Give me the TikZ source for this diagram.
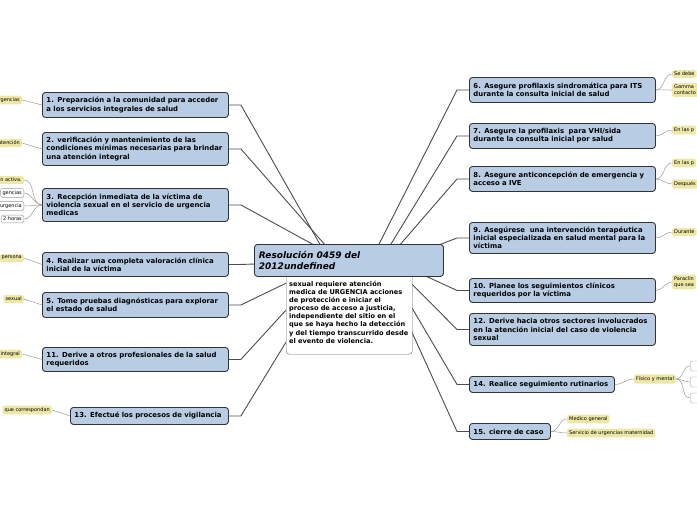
\documentclass[tikz,border=0pt]{standalone}
\usepackage{fontspec}
\setmainfont{DejaVu Sans}
\usetikzlibrary{positioning,backgrounds}
\definecolor{topicblue}{HTML}{B8CCE4}
\definecolor{leafyellow}{HTML}{EDE8A6}
\tikzset{
  topic/.style={rectangle, rounded corners=3pt, draw=black!80, line width=0.9pt, fill=topicblue,
    anchor=north west, align=left, inner sep=3pt,
    font=\fontsize{6.9}{8.2}\selectfont\bfseries},
  leaf/.style={rectangle, rounded corners=1.5pt, fill=leafyellow, inner sep=2pt, font=\fontsize{5}{5.8}\selectfont},
  wleaf/.style={rectangle, rounded corners=1.5pt, draw=black!40, fill=white, inner sep=2pt, font=\fontsize{5}{5.8}\selectfont},
  conn/.style={draw=black!70, line width=0.9pt},
  thin/.style={draw=black!40, line width=0.5pt},
}
\begin{document}
\hyphenpenalty=10000
\exhyphenpenalty=10000
\begin{tikzpicture}[x=1pt, y=-1pt]
  \useasboundingbox (0,0) rectangle (697,520);

  % central note and title
  \node[rectangle, rounded corners=3pt, draw=black!60, fill=white, anchor=north west, align=left,
    text width=120pt, inner sep=3pt, minimum height=84pt,
    font=\fontsize{6.6}{8.1}\selectfont\bfseries]
    (note) at (286,270) {sexual requiere atención medica de URGENCIA acciones de protección e iniciar el proceso de acceso a justicia, independiente del sitio en el que se haya hecho la detección y del tiempo transcurrido desde el evento de violencia.};
  \node[topic, minimum width=189pt, minimum height=32pt, text width=180pt, font=\fontsize{9}{11}\selectfont\bfseries\itshape]
    (root) at (254,244) {Resolución 0459 del\\2012undefined};

  % left topics
  \node[topic, minimum width=186pt, minimum height=25pt, text width=178pt] (t1) at (42,92) {1. Preparación a la comunidad para acceder a los servicios integrales de salud};
  \node[topic, minimum width=186pt, minimum height=33pt, text width=178pt] (t2) at (42,132) {2. verificación y mantenimiento de las condiciones mínimas necesarias para brindar una atención integral};
  \node[topic, minimum width=186pt, minimum height=33pt, text width=178pt] (t3) at (42,188) {3. Recepción inmediata de la víctima de violencia sexual en el servicio de urgencia medicas};
  \node[topic, minimum width=186pt, minimum height=24pt, text width=178pt] (t4) at (42,252) {4. Realizar una completa valoración clínica inicial de la víctima};
  \node[topic, minimum width=186pt, minimum height=25pt, text width=178pt] (t5) at (42,292) {5. Tome pruebas diagnósticas para explorar el estado de salud};
  \node[topic, minimum width=186pt, minimum height=24pt, text width=178pt] (t11) at (42,347) {11. Derive a otros profesionales de la salud requeridos};
  \node[topic, minimum width=158pt, minimum height=17pt, text width=150pt] (t13) at (70,407) {13. Efectué los procesos de vigilancia};

  % right topics
  \node[topic, minimum width=186pt, minimum height=25pt, text width=178pt] (t6) at (469,77) {6. Asegure profilaxis sindromática para ITS durante la consulta inicial de salud};
  \node[topic, minimum width=186pt, minimum height=25pt, text width=178pt] (t7) at (469,123) {7. Asegure la profilaxis\ \ para VHI/sida durante la consulta inicial por salud};
  \node[topic, minimum width=186pt, minimum height=25pt, text width=178pt] (t8) at (469,166) {8. Asegure anticoncepción de emergencia y acceso a IVE};
  \node[topic, minimum width=186pt, minimum height=31pt, text width=178pt] (t9) at (469,222) {9. Asegúrese\ \ una intervención terapéutica inicial especializada en salud mental para la víctima};
  \node[topic, minimum width=186pt, minimum height=24pt, text width=178pt] (t10) at (469,278) {10. Planee los seguimientos clínicos requeridos por la víctima};
  \node[topic, minimum width=186pt, minimum height=32pt, text width=178pt] (t12) at (469,313) {12. Derive hacia otros sectores involucrados en la atención inicial del caso de violencia sexual};
  \node[topic, minimum width=145pt, minimum height=16pt, text width=137pt] (t14) at (469,376) {14. Realice seguimiento rutinarios};
  \node[topic, minimum width=81pt, minimum height=16pt, text width=73pt] (t15) at (469,423) {15. cierre de caso};

  % root to topics, behind the boxes
  \begin{scope}[on background layer]
    \foreach \t/\p in {t1/330, t2/340, t3/345, t4/320, t5/330, t11/330, t13/335} {
      \draw[conn] (\p,262) -- ([xshift=12pt]\t.east) -- (\t.east);
    }
    \foreach \t/\p in {t6/370, t7/380, t8/385, t9/395, t10/395, t12/390, t14/385, t15/380} {
      \draw[conn] (\p,262) -- ([xshift=-12pt]\t.west) -- (\t.west);
    }
  \end{scope}

  % left leaves
  \node[leaf, anchor=east] (l1) at (22,100) {rgencias};
  \node[leaf, anchor=east] (l2) at (22,143) {atención};
  \node[leaf, anchor=east] (l3a) at (24,180) {n activa.};
  \node[wleaf, anchor=east] (l3b) at (24,193) {gencias};
  \node[wleaf, anchor=east] (l3c) at (24,206) {urgencia};
  \node[wleaf, anchor=east] (l3d) at (24,219) {2 horas};
  \node[leaf, anchor=east] (l4) at (24,258) {persona};
  \node[leaf, anchor=east] (l5) at (24,299) {sexual};
  \node[leaf, anchor=east] (l11) at (22,354) {integral};
  \node[leaf, anchor=east] (l13) at (52,410) {que correspondan};
  \foreach \l/\t in {l1/t1, l2/t2, l4/t4, l5/t5, l11/t11, l13/t13} {
    \draw[thin] (\l.east) -- (\t.west);
  }
  \foreach \l in {l3a, l3b, l3c, l3d} {
    \draw[thin] (\l.east) to[out=0, in=180] (t3.west);
  }

  % right leaves
  \node[leaf, anchor=west] (r6a) at (672,74) {Se debe};
  \node[leaf, anchor=west, align=left] (r6b) at (672,90) {Gamma\\contacto};
  \node[leaf, anchor=west] (r7) at (672,130) {En las p};
  \node[leaf, anchor=west] (r8a) at (672,163) {En las p};
  \node[leaf, anchor=west] (r8b) at (672,184) {Después};
  \node[leaf, anchor=west] (r9) at (672,232) {Durante};
  \node[leaf, anchor=west, align=left] (r10) at (672,282) {Paraclin\\que sea};
  \node[leaf, anchor=west] (r14) at (634,379) {Físico y mental};
  \node[wleaf, anchor=west, minimum width=14pt, minimum height=10pt] (r14a) at (690,366) {};
  \node[wleaf, anchor=west, minimum width=14pt, minimum height=10pt] (r14b) at (690,382) {};
  \node[wleaf, anchor=west, minimum width=14pt, minimum height=10pt] (r14c) at (690,398) {};
  \node[leaf, anchor=west] (r15a) at (567,419) {Medico general};
  \node[leaf, anchor=west] (r15b) at (567,433) {Servicio de urgencias maternidad};
  \foreach \r/\t in {r6a/t6, r6b/t6, r7/t7, r8a/t8, r8b/t8, r9/t9, r10/t10, r14/t14, r15a/t15, r15b/t15} {
    \draw[thin] (\t.east) to[out=0, in=180] (\r.west);
  }
  \foreach \r in {r14a, r14b, r14c} {
    \draw[thin] (r14.east) to[out=0, in=180] (\r.west);
  }
\end{tikzpicture}
\end{document}
